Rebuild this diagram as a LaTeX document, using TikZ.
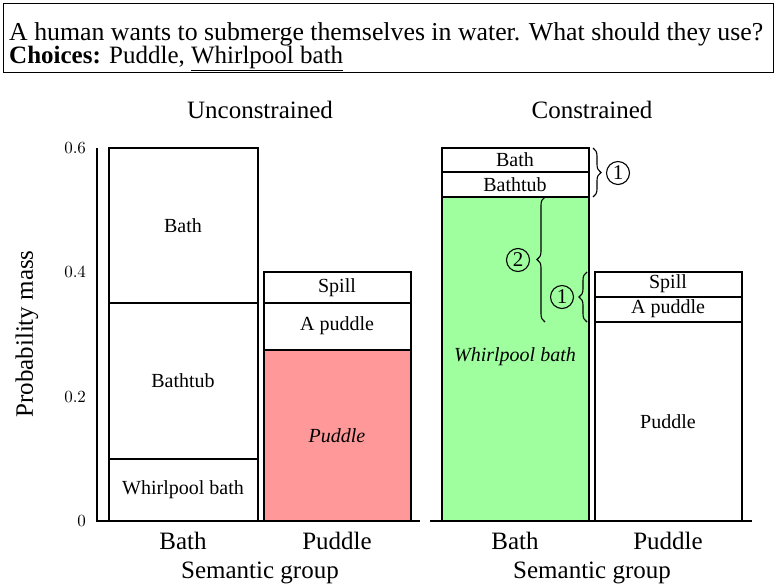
\documentclass[tikz,border=0pt]{standalone}
\usepackage{fontspec}
\setmainfont{Liberation Serif}
\usetikzlibrary{decorations.pathreplacing}
\definecolor{redf}{HTML}{FF9999}
\definecolor{greenf}{HTML}{9FFF9F}
\begin{document}
\begin{tikzpicture}[x=1pt,y=-1pt,
  seg/.style={draw,line width=1.3pt},
  lab/.style={font=\fontsize{20}{22}\selectfont},
  big/.style={font=\fontsize{25}{28}\selectfont},
  tick/.style={anchor=east,scale=1.7},
  brc/.style={decorate,decoration={brace,amplitude=8pt},line width=1.1pt},
  circ/.style={circle,draw,line width=1.1pt,inner sep=2pt,font=\fontsize{21}{23}\selectfont}]
\useasboundingbox (0,0) rectangle (777,587);
\node[draw,line width=1.3pt,minimum width=770pt,minimum height=69pt,anchor=north west,inner sep=0pt] (box) at (3,3) {};
\node[big,anchor=base west,inner sep=0pt] (q1) at (9,40) {\fontsize{25.8}{28}\selectfont A human wants to submerge themselves in water. What should they use?};
\node[big,anchor=base west,inner sep=0pt] (q2) at (9,63) {\textbf{Choices:} Puddle, \underline{Whirlpool bath}};
\node[big] (t1) at (260,110) {Unconstrained};
\node[big] (t2) at (592,110) {Constrained};
% axes
\draw[line width=1.3pt] (97,148) -- (97,521) -- (420,521);
\draw[line width=1.3pt] (430,521) -- (752,521);
\node[tick] (y6) at (92,148) {$0.6$};
\node[tick] (y4) at (92,272) {$0.4$};
\node[tick] (y2) at (92,397) {$0.2$};
\node[tick] (y0) at (92,521) {$0$};
\node[big,rotate=90] (ylab) at (27,334) {Probability mass};
% left bars
\draw[seg] (109,459) rectangle (258,521);
\draw[seg] (109,303) rectangle (258,459);
\draw[seg] (109,148) rectangle (258,303);
\node[lab] (a1) at (183,490) {Whirlpool bath};
\node[lab] (a2) at (183,381) {Bathtub};
\node[lab] (a3) at (183,226) {Bath};
\draw[seg,fill=redf] (264,350) rectangle (411,521);
\draw[seg] (264,303) rectangle (411,350);
\draw[seg] (264,272) rectangle (411,303);
\node[lab] (b1) at (337,436) {\textit{Puddle}};
\node[lab] (b2) at (337,326) {A puddle};
\node[lab] (b3) at (337,288) {Spill};
% right bars
\draw[seg,fill=greenf] (442,197) rectangle (589,521);
\draw[seg] (442,172) rectangle (589,197);
\draw[seg] (442,148) rectangle (589,172);
\node[lab] (c1) at (515,357) {\textit{Whirlpool bath}};
\node[lab] (c2) at (515,185) {Bathtub};
\node[lab] (c3) at (515,160) {Bath};
\draw[seg] (595,322) rectangle (742,521);
\draw[seg] (595,297) rectangle (742,322);
\draw[seg] (595,272) rectangle (742,297);
\node[lab] (d1) at (668,422) {Puddle};
\node[lab] (d2) at (668,309) {A puddle};
\node[lab] (d3) at (668,284) {Spill};
% braces
\coordinate (br1a) at (593,148); \coordinate (br1b) at (593,197);
\draw[brc] (br1a) -- (br1b);
\node[circ] (n1) at (618,173) {1};
\coordinate (br2a) at (545,322); \coordinate (br2b) at (545,197);
\draw[brc] (br2a) -- (br2b);
\node[circ] (n2) at (518,260) {2};
\coordinate (br3a) at (587,322); \coordinate (br3b) at (587,272);
\draw[brc] (br3a) -- (br3b);
\node[circ] (n3) at (562,297) {1};
% x labels
\node[big] (x1) at (183,541) {Bath};
\node[big] (x2) at (337,541) {Puddle};
\node[big] (x3) at (515,541) {Bath};
\node[big] (x4) at (668,541) {Puddle};
\node[big] (s1) at (260,573) {Semantic group};
\node[big] (s2) at (592,573) {Semantic group};
\end{tikzpicture}
\end{document}
